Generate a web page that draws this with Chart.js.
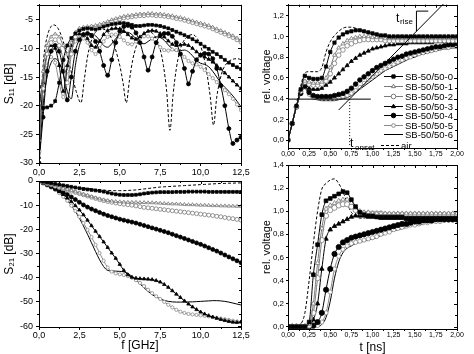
<!DOCTYPE html>
<html>
<head>
<meta charset="utf-8">
<script src="https://cdn.jsdelivr.net/npm/chart.js@4.4.0/dist/chart.umd.min.js"></script>
<style>
  body { margin: 0; background: #fff; width: 474px; height: 354px; overflow: hidden; position: relative; }
  .box { position: absolute; }
</style>
</head>
<body>
<div class="box" style="left:0;top:0;width:252px;height:180px"><canvas id="s11"></canvas></div>
<div class="box" style="left:0;top:172px;width:252px;height:182px"><canvas id="s21"></canvas></div>
<div class="box" style="left:250px;top:0;width:224px;height:165px"><canvas id="tdr"></canvas></div>
<div class="box" style="left:250px;top:158px;width:224px;height:196px"><canvas id="tdt"></canvas></div>
<script>
// ---- data -------------------------------------------------------------
var seriesNames = ['SB-50/50-0', 'SB-50/50-1', 'SB-50/50-2', 'SB-50/50-3', 'SB-50/50-4', 'SB-50/50-5', 'SB-50/50-6', 'air'];

// frequency grid [GHz]
var freq = [0,0.25,0.5,0.75,1,1.25,1.5,1.75,2,2.25,2.5,2.75,3,3.25,3.5,3.75,4,4.25,4.5,4.75,5,5.25,5.5,5.75,6,6.25,6.5,6.75,7,7.25,7.5,7.75,8,8.25,8.5,8.75,9,9.25,9.5,9.75,10,10.25,10.5,10.75,11,11.25,11.5,11.75,12,12.25,12.5];

// S11 [dB]
var s11_0 = [-16.7,-20.4,-20.3,-20,-19.2,-16,-12,-9.5,-8.2,-7.4,-6.9,-6.6,-6.5,-6.6,-6.7,-6.5,-6.2,-6.0,-5.8,-5.7,-5.6,-5.6,-5.7,-5.9,-6.1,-6.1,-6.0,-5.9,-5.9,-6.0,-6.1,-6.3,-6.5,-6.8,-7.1,-7.4,-7.7,-8.0,-8.4,-8.8,-9.2,-9.7,-10.1,-10.6,-11.0,-11.5,-12.0,-12.5,-12.9,-13.3,-13.6];
var s11_1 = [-26,-14,-9.5,-8,-7.5,-8,-9.5,-11,-9,-7.2,-6.5,-6.3,-6.2,-6.1,-6.0,-5.8,-5.6,-5.3,-5.0,-4.8,-4.6,-4.4,-4.3,-4.2,-4.1,-4.0,-4.0,-3.9,-3.9,-4.0,-4.0,-4.1,-4.2,-4.3,-4.5,-4.6,-4.8,-5.0,-5.2,-5.4,-5.6,-5.8,-6.0,-6.3,-6.6,-6.9,-7.2,-7.5,-7.8,-8.2,-8.6];
var s11_2 = [-28,-17,-11,-9,-8.5,-9.5,-12,-16,-11,-8,-6.8,-6.6,-6.5,-6.4,-6.3,-6.1,-5.9,-5.6,-5.3,-5.1,-4.9,-4.7,-4.6,-4.5,-4.4,-4.3,-4.3,-4.2,-4.2,-4.3,-4.3,-4.4,-4.5,-4.6,-4.8,-4.9,-5.1,-5.3,-5.5,-5.7,-5.9,-6.1,-6.3,-6.6,-6.9,-7.2,-7.5,-7.8,-8.1,-8.5,-8.9];
var s11_3 = [-29,-16,-11,-9.5,-10,-13,-17.5,-13,-9.5,-8,-7.5,-7.6,-8.3,-9.5,-9.8,-8.8,-7.6,-6.9,-6.6,-6.5,-6.6,-7.0,-7.6,-8.2,-8.4,-8.0,-7.4,-7.0,-6.9,-7.0,-7.4,-8.0,-8.7,-9.3,-9.5,-9.4,-9.3,-9.5,-10.0,-10.6,-11.1,-11.5,-11.9,-12.4,-13.0,-13.6,-14.3,-15.0,-15.7,-16.4,-17.0];
var s11_4 = [-30,-22,-14,-10.5,-9.5,-10.5,-14,-19,-15,-10.5,-8.5,-7.6,-7.4,-7.8,-8.8,-10.5,-13,-14.7,-12,-9,-7,-6.2,-6.0,-6.3,-7.3,-9,-11.5,-13.8,-11.5,-9,-7.8,-7.4,-7.4,-7.9,-9,-11,-13.5,-16.2,-14,-12,-11.2,-10.9,-11,-11.8,-13.5,-16.5,-20,-24,-26.6,-26,-25.5];
var s11_5 = [-27,-18,-13,-11.5,-12.5,-16,-18.5,-14,-10.5,-8.8,-8.2,-8.3,-9,-10.3,-11,-10,-8.8,-8.0,-7.6,-7.6,-8.0,-8.6,-9.2,-9.3,-8.8,-8.2,-7.9,-7.9,-8.3,-9.0,-9.8,-10.3,-10.4,-10.2,-10.3,-10.8,-11.5,-12.2,-12.6,-12.8,-13.2,-13.8,-14.5,-15.2,-15.9,-16.6,-17.3,-18.0,-18.8,-19.8,-20.8];
var s11_6 = [-30,-20,-15,-12.5,-11.8,-12.5,-14.5,-17.5,-18.8,-13,-9.5,-8.0,-7.4,-7.4,-7.8,-8.6,-9.5,-9.8,-9.2,-8.3,-7.6,-7.2,-7.2,-7.6,-8.3,-9.0,-9.2,-8.8,-8.3,-8.0,-8.1,-8.6,-9.4,-10.1,-10.5,-10.4,-10.3,-10.6,-11.3,-12.1,-12.6,-12.8,-13.2,-14.0,-15.0,-16.0,-16.8,-17.5,-18.3,-19.2,-20.2];
// air reference is read at its own frequencies (sharp dips)
var airFreq = [0,0.15,0.3,0.5,0.7,0.9,1.1,1.3,1.5,1.7,1.9,2.1,2.3,2.6,2.8,3.0,3.2,3.4,3.6,3.9,4.2,4.4,4.6,4.8,5.0,5.2,5.4,5.6,5.8,6.0,6.2,6.5,6.8,7.1,7.3,7.5,7.7,7.9,8.1,8.3,8.5,8.7,8.9,9.2,9.5,9.8,10.0,10.2,10.4,10.6,10.8,11.0,11.2,11.4,11.7,12.0,12.3,12.5];
var s11_air = [-29,-18,-11.5,-8,-6.4,-5.9,-6.2,-7.2,-8.8,-10.8,-13,-15.3,-17.5,-19.5,-15.5,-11.5,-9,-7.6,-6.9,-6.6,-7.0,-7.8,-9,-10.8,-13,-16,-19.5,-15.5,-12,-9.8,-8.5,-7.4,-7.1,-7.6,-8.6,-10.2,-13,-17.5,-24.3,-18,-13.5,-10.6,-9,-7.9,-7.6,-8.3,-9.6,-11.5,-14.5,-18.5,-23.4,-18.5,-15.5,-13.6,-12.4,-11.9,-11.8,-12.0];

// S21 [dB]
var s21_0 = [0,-0.3,-0.6,-0.9,-1.2,-1.5,-1.8,-2.1,-2.4,-2.7,-3.0,-3.3,-3.5,-3.7,-3.9,-4.1,-4.4,-4.8,-5.2,-5.5,-5.7,-5.8,-5.8,-5.8,-5.7,-5.5,-5.2,-5.0,-4.8,-4.7,-4.6,-4.6,-4.6,-4.6,-4.5,-4.5,-4.5,-4.4,-4.4,-4.4,-4.4,-4.4,-4.5,-4.5,-4.5,-4.5,-4.5,-4.5,-4.5,-4.5,-4.5];
var s21_1 = [0,-0.5,-1.0,-1.5,-2.0,-2.5,-3.0,-3.5,-4.0,-4.5,-5.0,-5.5,-6.0,-6.5,-7.0,-7.4,-7.8,-8.1,-8.3,-8.5,-8.6,-8.7,-8.8,-8.8,-8.8,-8.9,-8.9,-9.0,-9.0,-9.1,-9.2,-9.3,-9.4,-9.5,-9.5,-9.6,-9.7,-9.8,-9.8,-9.9,-10.0,-10.0,-10.1,-10.2,-10.2,-10.3,-10.3,-10.4,-10.4,-10.5,-10.5];
var s21_2 = [0,-0.5,-1.1,-1.6,-2.2,-2.7,-3.2,-3.7,-4.2,-4.7,-5.2,-5.7,-6.2,-6.7,-7.2,-7.7,-8.1,-8.5,-8.8,-9.1,-9.4,-9.6,-9.8,-10.0,-10.3,-10.6,-10.9,-11.1,-11.3,-11.5,-11.7,-11.9,-12.1,-12.3,-12.5,-12.7,-12.9,-13.1,-13.3,-13.5,-13.7,-13.9,-14.1,-14.3,-14.6,-14.8,-15.1,-15.4,-15.6,-15.9,-16.2];
var s21_3 = [0,-0.6,-1.4,-2.3,-3.3,-4.4,-5.6,-7.0,-8.5,-10.2,-12.0,-14.0,-16.2,-18.5,-20.8,-23.0,-25.2,-27.5,-29.8,-32.0,-34.5,-37.0,-38.8,-39.8,-40.2,-40.4,-40.5,-40.6,-40.8,-41.2,-41.8,-42.8,-44.0,-45.4,-46.8,-48.2,-49.6,-50.9,-52.1,-53.2,-54.2,-55.0,-55.7,-56.3,-56.8,-57.3,-57.7,-58.1,-58.4,-58.5,-58.3];
var s21_4 = [0,-0.8,-1.6,-2.4,-3.2,-4.0,-4.8,-5.6,-6.6,-7.7,-8.8,-9.9,-10.8,-11.6,-12.3,-13.0,-13.7,-14.3,-14.8,-15.3,-15.8,-16.2,-16.6,-17.0,-17.4,-17.9,-18.4,-18.9,-19.4,-19.9,-20.4,-20.9,-21.4,-22.0,-22.6,-23.2,-23.8,-24.4,-25.0,-25.6,-26.2,-26.9,-27.6,-28.3,-29.0,-29.8,-30.6,-31.4,-32.2,-33.0,-33.8];
var s21_5 = [0,-0.7,-1.6,-2.6,-3.7,-5.0,-6.5,-8.2,-10.2,-12.4,-14.8,-17.4,-20.2,-23.2,-26.4,-29.8,-33.0,-35.8,-37.5,-38.2,-38.6,-38.9,-39.3,-40.0,-41.0,-42.2,-43.5,-45.0,-46.4,-47.7,-48.8,-50.0,-51.2,-52.3,-53.3,-54.1,-54.6,-55.0,-55.2,-55.4,-55.6,-55.8,-56.0,-56.3,-56.6,-56.9,-57.2,-57.5,-57.8,-58.1,-58.4];
var s21_6 = [0,-0.7,-1.5,-2.5,-3.6,-4.9,-6.4,-8.2,-10.2,-12.6,-15.4,-18.6,-22.0,-25.6,-29.2,-32.6,-35.4,-37.0,-37.2,-37.3,-37.4,-37.6,-38.2,-39.5,-41.0,-42.6,-44.2,-45.7,-47.0,-48.0,-48.8,-49.4,-49.8,-50.0,-50.1,-50.1,-50.1,-50.0,-50.0,-49.9,-49.8,-49.7,-49.6,-49.5,-49.5,-49.6,-49.8,-50.1,-50.5,-50.9,-51.3];
var s21_air = [0,-0.3,-0.6,-1.0,-1.3,-1.6,-1.8,-2.0,-2.3,-2.5,-2.7,-2.9,-3.1,-3.3,-3.5,-3.6,-3.8,-3.9,-4.0,-4.0,-4.0,-4.0,-3.9,-3.8,-3.7,-3.5,-3.3,-3.1,-2.9,-2.7,-2.5,-2.4,-2.3,-2.2,-2.1,-2.0,-1.9,-1.8,-1.7,-1.6,-1.5,-1.4,-1.3,-1.2,-1.1,-1.0,-1.0,-0.9,-0.9,-0.8,-0.8];

// time grid [ns]
var time = [0,0.05,0.1,0.15,0.2,0.25,0.3,0.35,0.4,0.45,0.5,0.55,0.6,0.65,0.7,0.75,0.8,0.85,0.9,0.95,1.0,1.05,1.1,1.15,1.2,1.25,1.3,1.35,1.4,1.45,1.5,1.55,1.6,1.65,1.7,1.75,1.8,1.85,1.9,1.95,2.0];

// reflected step, rel. voltage
var tdr_0 = [0,.16,.33,.49,.62,.60,.59,.59,.60,.71,.85,.94,.99,1.02,1.04,1.05,1.06,1.06,1.05,1.04,1.03,1.02,1.01,1.01,1.0,1.0,1.0,1.0,1.0,1.0,1.0,1.0,1.0,1.0,1.0,1.0,1.0,1.0,1.0,1.0,1.0];
var tdr_1 = [0,.16,.33,.48,.57,.56,.55,.55,.56,.60,.70,.82,.89,.93,.96,.98,.99,1.0,1.0,1.0,.99,.99,.99,.98,.98,.98,.98,.98,.98,.98,.98,.98,.98,.98,.98,.98,.98,.98,.98,.98,.98];
var tdr_2 = [0,.16,.32,.47,.56,.54,.53,.53,.54,.57,.64,.74,.82,.87,.91,.93,.95,.96,.97,.97,.97,.97,.97,.96,.96,.96,.96,.96,.96,.96,.96,.96,.96,.96,.96,.96,.96,.96,.96,.96,.96];
var tdr_3 = [0,.16,.32,.46,.54,.50,.49,.49,.50,.53,.56,.60,.64,.68,.72,.76,.79,.82,.84,.86,.88,.89,.90,.91,.92,.92,.93,.93,.93,.94,.94,.94,.94,.94,.94,.95,.95,.95,.95,.95,.95];
var tdr_4 = [0,.16,.32,.45,.52,.46,.43,.42,.42,.42,.42,.43,.44,.45,.47,.50,.54,.58,.61,.64,.67,.70,.72,.74,.76,.78,.80,.81,.83,.84,.85,.86,.87,.88,.89,.90,.90,.91,.92,.92,.93];
var tdr_5 = [0,.16,.32,.45,.51,.44,.41,.40,.40,.40,.40,.40,.41,.42,.43,.45,.48,.51,.55,.58,.61,.64,.67,.69,.71,.73,.75,.77,.79,.80,.82,.83,.84,.85,.86,.87,.88,.89,.89,.90,.90];
var tdr_6 = [0,.16,.32,.45,.50,.43,.40,.39,.38,.38,.38,.38,.39,.40,.41,.43,.46,.49,.52,.55,.58,.61,.64,.67,.69,.71,.73,.75,.77,.79,.80,.82,.83,.84,.85,.86,.87,.88,.88,.89,.89];
var tdr_air = [0,.17,.35,.52,.65,.66,.66,.66,.70,.85,.95,1.01,1.05,1.08,1.09,1.09,1.08,1.06,1.04,1.03,1.02,1.01,1.0,1.0,.99,.99,.99,.99,.99,.99,.99,.99,.99,.99,.99,.99,.99,.99,.99,.99,.99];

// transmitted step, rel. voltage
var tdt_0 = [0,0,0,0,0,.04,.45,.71,.97,1.09,1.11,1.13,1.15,1.17,1.16,1.10,1.04,.99,.97,.96,.96,.95,.95,.95,.95,.95,.95,.95,.94,.94,.94,.94,.94,.94,.94,.94,.94,.94,.94,.94,.94];
var tdt_1 = [0,0,0,0,0,.02,.2,.55,.85,1.02,1.05,1.07,1.09,1.10,1.10,1.07,1.03,1.0,.99,.99,.98,.98,.98,.98,.98,.98,.98,.98,.98,.98,.98,.98,.98,.98,.98,.98,.98,.98,.98,.98,.98];
var tdt_2 = [0,0,0,0,0,.01,.12,.42,.75,.96,1.01,1.03,1.05,1.06,1.06,1.04,1.01,.99,.98,.98,.98,.98,.98,.97,.97,.97,.97,.97,.97,.97,.97,.97,.97,.97,.97,.97,.97,.97,.97,.97,.97];
var tdt_3 = [0,0,0,0,0,.01,.06,.2,.5,.76,.84,.87,.89,.91,.93,.95,.96,.96,.96,.95,.95,.95,.94,.94,.94,.94,.94,.94,.93,.93,.93,.93,.93,.93,.93,.93,.93,.93,.93,.93,.93];
var tdt_4 = [0,0,0,0,0,0,.01,.04,.12,.32,.5,.63,.69,.73,.75,.77,.78,.79,.80,.81,.82,.83,.84,.85,.86,.87,.88,.89,.89,.90,.91,.91,.92,.92,.92,.93,.93,.93,.93,.93,.93];
var tdt_5 = [0,0,0,0,0,0,0,.01,.04,.12,.3,.5,.61,.67,.70,.72,.73,.74,.75,.76,.77,.78,.80,.81,.82,.84,.85,.86,.87,.88,.88,.89,.90,.90,.91,.91,.91,.92,.92,.92,.92];
var tdt_6 = [0,0,0,0,0,0,0,0,.02,.08,.22,.42,.56,.64,.68,.70,.72,.73,.74,.75,.76,.77,.79,.80,.82,.83,.84,.85,.86,.87,.88,.88,.89,.90,.90,.91,.91,.91,.92,.92,.92];
var tdt_air = [0,0,0,.02,.12,.40,.72,1.0,1.19,1.24,1.27,1.28,1.24,1.17,1.07,.99,.96,.94,.94,.96,.97,.97,.97,.97,.97,.97,.97,.97,.97,.97,.97,.97,.97,.97,.97,.97,.97,.97,.97,.97,.97];

// tick values
var fTicks = [0, 2.5, 5, 7.5, 10, 12.5];
var s11Ticks = [-30, -25, -20, -15, -10, -5];
var s21Ticks = [-60, -50, -40, -30, -20, -10, 0];
var tTicks = [0, 0.25, 0.5, 0.75, 1, 1.25, 1.5, 1.75, 2];
var vTicksTop = [0, 0.2, 0.4, 0.6, 0.8, 1.0, 1.2];
var vTicksBottom = [0, 0.2, 0.4, 0.6, 0.8, 1.0, 1.2, 1.4];

// ---- styles ------------------------------------------------------------
Chart.defaults.font.family = '"Liberation Sans", Arial, sans-serif';
Chart.defaults.color = '#000';

var looks = [
  { line: '#000', point: 'rect',     fill: '#000' },
  { line: '#7a7a7a', point: 'triangle', fill: '#fff' },
  { line: '#7a7a7a', point: 'circle',   fill: '#fff' },
  { line: '#000', point: 'triangle', fill: '#000' },
  { line: '#000', point: 'circle',   fill: '#000' },
  { line: '#8a8a8a', point: 'circle',   fill: '#fff', scale: 0.8 },
  { line: '#000', point: false },
  { line: '#000', point: false, dash: [3, 2] }
];

function buildSets(xs, yLists, r, airXs) {
  return yLists.map(function(ys, i) {
    var lk = looks[i];
    var px = (i === 7 && airXs) ? airXs : xs;
    return {
      label: seriesNames[i],
      data: px.map(function(x, j) { return { x: x, y: ys[j] }; }),
      borderColor: lk.line,
      borderWidth: 1,
      borderDash: lk.dash || [],
      pointStyle: lk.point || 'circle',
      pointRadius: lk.point ? r * (lk.scale || 1) : 0,
      pointBackgroundColor: lk.fill || lk.line,
      pointBorderColor: lk.line,
      pointBorderWidth: 0.8,
      cubicInterpolationMode: 'monotone',
      fill: false
    };
  });
}

function fmt(v, dec) {
  return Number(v).toFixed(dec).replace('.', ',');
}

// box around the plot, minor ticks and mirrored ticks on top / right
var frame = {
  id: 'frame',
  afterDraw: function(chart) {
    var ctx = chart.ctx, a = chart.chartArea;
    var sx = chart.scales.x, sy = chart.scales.y;
    ctx.save();
    ctx.strokeStyle = '#000';
    ctx.lineWidth = 1;
    ctx.strokeRect(Math.round(a.left) + 0.5, Math.round(a.top) + 0.5,
                   Math.round(a.right - a.left), Math.round(a.bottom - a.top));
    ctx.beginPath();
    var xt = sx.ticks.map(function(t) { return t.value; });
    var xs = xt[1] - xt[0];
    xt.forEach(function(v) {
      var p = Math.round(sx.getPixelForValue(v)) + 0.5;
      ctx.moveTo(p, a.top); ctx.lineTo(p, a.top + 3);
      [v - xs / 2, v + xs / 2].forEach(function(m) {
        if (m < sx.min || m > sx.max) return;
        var q = Math.round(sx.getPixelForValue(m)) + 0.5;
        ctx.moveTo(q, a.bottom); ctx.lineTo(q, a.bottom + 2);
        ctx.moveTo(q, a.top); ctx.lineTo(q, a.top + 2);
      });
    });
    var yt = sy.ticks.map(function(t) { return t.value; });
    var ys = yt[1] - yt[0];
    yt.forEach(function(v) {
      var p = Math.round(sy.getPixelForValue(v)) + 0.5;
      ctx.moveTo(a.right, p); ctx.lineTo(a.right - 3, p);
      [v - ys / 2, v + ys / 2].forEach(function(m) {
        if (m < sy.min || m > sy.max) return;
        var q = Math.round(sy.getPixelForValue(m)) + 0.5;
        ctx.moveTo(a.left, q); ctx.lineTo(a.left - 2, q);
        ctx.moveTo(a.right, q); ctx.lineTo(a.right - 2, q);
      });
    });
    ctx.stroke();
    ctx.restore();
  }
};

function panel(id, sets, o) {
  return new Chart(document.getElementById(id).getContext('2d'), {
    type: 'line',
    data: { datasets: sets },
    options: {
      responsive: true,
      maintainAspectRatio: false,
      animation: false,
      layout: { padding: o.pad },
      plugins: { legend: { display: false }, tooltip: { enabled: false } },
      scales: {
        x: {
          type: 'linear', min: o.xMin, max: o.xMax,
          afterBuildTicks: function(s) { s.ticks = o.xTicks.map(function(v) { return { value: v }; }); },
          afterFit: function(s) { s.height = o.xh; s.paddingLeft = 0; s.paddingRight = 0; },
          ticks: { font: { size: o.xFont }, color: '#000', padding: o.xPad, maxRotation: 0, autoSkip: false,
                   callback: function(v) { return fmt(v, o.xDec); } },
          grid: { drawOnChartArea: false, tickLength: o.tl, color: '#000' },
          border: { color: '#000' },
          title: { display: !!o.xTitle, text: o.xTitle || '', color: '#000',
                   font: { size: 12, lineHeight: 1 }, padding: { top: 0, bottom: o.xtPad || 0 } }
        },
        y: {
          type: 'linear', min: o.yMin, max: o.yMax,
          afterBuildTicks: function(s) { s.ticks = o.yTicks.map(function(v) { return { value: v }; }); },
          afterFit: function(s) { s.width = o.yw; s.paddingTop = 0; s.paddingBottom = 0; },
          ticks: { font: { size: o.yFont }, color: '#000', padding: o.yPad, autoSkip: false,
                   callback: function(v) { return fmt(v, o.yDec); } },
          grid: { drawOnChartArea: false, tickLength: o.tl, color: '#000' },
          border: { color: '#000' },
          title: { display: true, text: o.yTitle, color: '#000',
                   font: { size: o.ytFont, lineHeight: 1 }, padding: { top: o.ytPad, bottom: 0 } }
        }
      }
    },
    plugins: [frame].concat(o.extra || [])
  });
}

// legend + t_rise / t_onset construction for the reflection panel
var legendRows = [76, 86, 96, 106, 115, 125, 134, 145];
var tdrLegend = {
  id: 'tdrLegend',
  afterDraw: function(chart) {
    var ctx = chart.ctx;
    ctx.save();
    ctx.font = '9.5px "Liberation Sans", Arial, sans-serif';
    ctx.textBaseline = 'middle';
    ctx.fillStyle = '#000';
    chart.data.datasets.forEach(function(ds, i) {
      var y = legendRows[i];
      var x0 = i === 7 ? 131 : 134, x1 = i === 7 ? 149 : 153;
      ctx.strokeStyle = ds.borderColor;
      ctx.lineWidth = 1;
      ctx.setLineDash(ds.borderDash);
      ctx.beginPath(); ctx.moveTo(x0, y + 0.5); ctx.lineTo(x1, y + 0.5); ctx.stroke();
      ctx.setLineDash([]);
      if (ds.pointRadius) {
        ctx.fillStyle = ds.pointBackgroundColor;
        ctx.strokeStyle = ds.pointBorderColor;
        Chart.helpers.drawPoint(ctx, { pointStyle: ds.pointStyle, radius: ds.pointRadius, borderWidth: 0.8, rotation: 0 }, (x0 + x1) / 2, y + 0.5);
      }
      ctx.fillStyle = '#000';
      ctx.fillText(ds.label, x1 + 2, y + 1);
    });
    ctx.restore();
  },
  afterDatasetsDraw: function(chart) {
    var ctx = chart.ctx, sx = chart.scales.x, sy = chart.scales.y;
    var X = function(v) { return sx.getPixelForValue(v); };
    var Y = function(v) { return sy.getPixelForValue(v); };
    var diag = function(t) { return 0.29 + (t - 0.6) * 0.826; };
    ctx.save();
    ctx.strokeStyle = '#000';
    ctx.lineWidth = 1;
    ctx.beginPath();
    ctx.moveTo(X(0), Y(0.395)); ctx.lineTo(X(0.98), Y(0.395));
    ctx.moveTo(X(0.6), Y(diag(0.6))); ctx.lineTo(X(1.84), Y(diag(1.84)));
    ctx.moveTo(X(1.52), Y(diag(1.52))); ctx.lineTo(X(1.52), Y(1.245)); ctx.lineTo(X(1.66), Y(1.245));
    ctx.stroke();
    ctx.setLineDash([1, 2]);
    ctx.beginPath();
    ctx.moveTo(X(0.73), Y(0.395)); ctx.lineTo(X(0.73), Y(-0.06));
    ctx.stroke();
    ctx.setLineDash([]);
    ctx.fillStyle = '#000';
    ctx.textBaseline = 'alphabetic';
    ctx.font = '12px "Liberation Sans", Arial, sans-serif';
    ctx.fillText('t', 146, 22);
    ctx.fillText('t', 100, 147);
    ctx.font = '8px "Liberation Sans", Arial, sans-serif';
    ctx.fillText('rise', 150, 24);
    ctx.fillText('onset', 105, 150);
    ctx.restore();
  }
};

// ---- charts ------------------------------------------------------------
panel('s11', buildSets(freq, [s11_0, s11_1, s11_2, s11_3, s11_4, s11_5, s11_6, s11_air], 2, airFreq), {
  pad: { top: 3, right: 11, left: 0, bottom: 0 },
  xMin: 0, xMax: 12.5, xTicks: fTicks, xDec: 1, xFont: 9, xPad: 1, xh: 17,
  yMin: -30, yMax: -2.4, yTicks: s11Ticks, yDec: 0, yFont: 9, yPad: 3, yw: 39,
  tl: 3, yTitle: 'S\u2081\u2081 [dB]', ytFont: 12, ytPad: 4
});

panel('s21', buildSets(freq, [s21_0, s21_1, s21_2, s21_3, s21_4, s21_5, s21_6, s21_air], 2), {
  pad: { top: 9, right: 11, left: 0, bottom: 0 },
  xMin: 0, xMax: 12.5, xTicks: fTicks, xDec: 1, xFont: 9, xPad: 0, xh: 27,
  yMin: -60.4, yMax: 0, yTicks: s21Ticks, yDec: 0, yFont: 9, yPad: 3, yw: 39,
  tl: 3, yTitle: 'S\u2082\u2081 [dB]', ytFont: 12, ytPad: 4,
  xTitle: 'f [GHz]', xtPad: 2
});

panel('tdr', buildSets(time, [tdr_0, tdr_1, tdr_2, tdr_3, tdr_4, tdr_5, tdr_6, tdr_air], 2.3), {
  pad: { top: 4, right: 17, left: 0, bottom: 0 },
  xMin: 0, xMax: 2, xTicks: tTicks, xDec: 2, xFont: 7, xPad: 0, xh: 17,
  yMin: -0.077, yMax: 1.306, yTicks: vTicksTop, yDec: 1, yFont: 8, yPad: 2, yw: 38,
  tl: 2, yTitle: 'rel. voltage', ytFont: 11, ytPad: 11,
  extra: [tdrLegend]
});

panel('tdt', buildSets(time, [tdt_0, tdt_1, tdt_2, tdt_3, tdt_4, tdt_5, tdt_6, tdt_air], 2.6), {
  pad: { top: 7, right: 17, left: 0, bottom: 0 },
  xMin: 0, xMax: 2, xTicks: tTicks, xDec: 2, xFont: 7, xPad: 0, xh: 25,
  yMin: -0.02, yMax: 1.4, yTicks: vTicksBottom, yDec: 1, yFont: 8, yPad: 2, yw: 38,
  tl: 2, yTitle: 'rel. voltage', ytFont: 11, ytPad: 11,
  xTitle: 't [ns]', xtPad: 0
});
</script>
</body>
</html>
